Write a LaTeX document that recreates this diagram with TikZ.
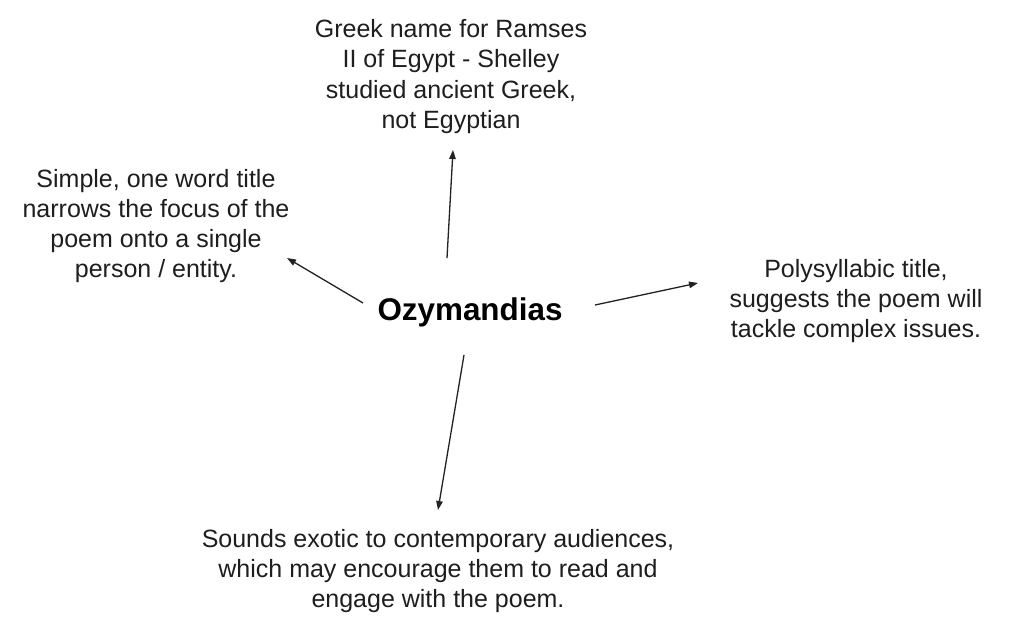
\documentclass[tikz,border=0pt]{standalone}
\usepackage{fontspec}
\setmainfont{Liberation Sans}
\usetikzlibrary{arrows.meta,calc}
\definecolor{txt}{HTML}{1E1E1E}
\definecolor{ln}{HTML}{222222}
\tikzset{
  note/.style={align=center,inner sep=0pt,anchor=base,text=txt,font=\fontsize{25}{30}\selectfont},
  title/.style={inner sep=0pt,anchor=base,text=black,font=\fontsize{31.4}{36}\selectfont\bfseries},
  arr/.style={draw=ln,line width=1.3pt,-{Triangle[length=9pt,width=6.5pt]}}
}
\begin{document}
\begin{tikzpicture}[x=1pt,y=-1pt]
\useasboundingbox[fill=white] (0,0) rectangle (1012,618);
\node[title] (oz) at (470,320) {Ozymandias};
\node[note] (top) at (451,128) {Greek name for Ramses\\II of Egypt - Shelley\\studied ancient Greek,\\not Egyptian};
\node[note] (left) at (156,277) {Simple, one word title\\narrows the focus of the\\poem onto a single\\person / entity.};
\node[note] (right) at (856,337) {Polysyllabic title,\\suggests the poem will\\tackle complex issues.};
\node[note] (bottom) at (438,607) {Sounds exotic to contemporary audiences,\\which may encourage them to read and\\engage with the poem.};
\draw[arr] ($(oz.base)+(-23,-62)$) -- ($(top.base)+(2,22)$);
\draw[arr] ($(oz.base)+(-107,-17)$) -- ($(left.base)+(131,-19)$);
\draw[arr] ($(oz.base)+(125,-15)$) -- ($(right.base)+(-158,-54)$);
\draw[arr] ($(oz.base)+(-6,35)$) -- ($(bottom.base)+(0,-97)$);
\end{tikzpicture}
\end{document}
